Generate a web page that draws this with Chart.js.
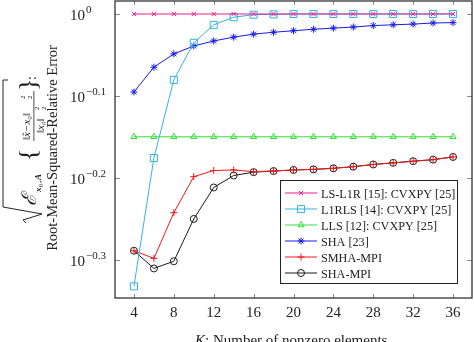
<!DOCTYPE html>
<html lang="en">

<head>
    <meta charset="UTF-8">
    <script src="https://cdn.jsdelivr.net/npm/chart.js@4.4.0/dist/chart.umd.min.js"></script>
    <title>RMSRE vs K</title>
    <style>
        body { margin: 0; background: #fff; }
        #wrap { width: 474px; height: 342px; position: relative; }
    </style>
</head>

<body>
    <div id="wrap"><canvas id="myChart"></canvas></div>

    <script>
        // number of nonzero elements K
        var kValues = [4, 6, 8, 10, 12, 14, 16, 18, 20, 22, 24, 26, 28, 30, 32, 34, 36];

        // root-mean-squared relative error per method
        var lsL1r  = [1.0, 1.0, 1.0, 1.0, 1.0, 1.0, 1.0, 1.0, 1.0, 1.0, 1.0, 1.0, 1.0, 1.0, 1.0, 1.0, 1.0];
        var l1rls  = [0.465, 0.667, 0.831, 0.922, 0.970, 0.991, 0.998, 0.999, 1.0, 1.0, 1.0, 1.0, 1.0, 1.0, 1.0, 1.0, 1.0];
        var lls    = [0.708, 0.708, 0.708, 0.708, 0.708, 0.708, 0.708, 0.708, 0.708, 0.708, 0.708, 0.708, 0.708, 0.708, 0.708, 0.708, 0.708];
        var sha    = [0.803, 0.861, 0.894, 0.914, 0.927, 0.937, 0.945, 0.950, 0.954, 0.958, 0.961, 0.964, 0.968, 0.970, 0.972, 0.975, 0.976];
        var smhaMpi = [0.514, 0.503, 0.572, 0.633, 0.644, 0.645, 0.642, 0.643, 0.645, 0.646, 0.648, 0.651, 0.655, 0.658, 0.661, 0.664, 0.669];
        var shaMpi  = [0.514, 0.489, 0.499, 0.562, 0.614, 0.635, 0.641, 0.643, 0.645, 0.646, 0.648, 0.651, 0.655, 0.658, 0.661, 0.664, 0.669];

        var xTicks = [4, 8, 12, 16, 20, 24, 28, 32, 36];
        var yTickExps = [0, -0.1, -0.2, -0.3];
        var yTickLabels = ['0', '\u22120.1', '\u22120.2', '\u22120.3'];

        var serif = "'Liberation Serif', 'DejaVu Serif', serif";

        function pts(ys) {
            return kValues.map(function (k, i) { return { x: k, y: ys[i] }; });
        }

        function series(label, ys, color, style, r) {
            return {
                label: label,
                data: pts(ys),
                borderColor: color,
                backgroundColor: 'rgba(0,0,0,0)',
                borderWidth: 1,
                pointStyle: style,
                pointRadius: r,
                pointBorderWidth: 1,
                pointBorderColor: color,
                pointBackgroundColor: 'rgba(0,0,0,0)',
                tension: 0
            };
        }

        var datasets = [
            series('LS-L1R [15]: CVXPY [25]', lsL1r, '#e81c8c', 'crossRot', 3),
            series('L1RLS [14]: CVXPY [25]', l1rls, '#33b2e4', 'rect', 5),
            series('LLS [12]: CVXPY [25]', lls, '#33dd33', 'triangle', 3.5),
            series('SHA [23]', sha, '#1a1ae8', 'star', 3.5),
            series('SMHA-MPI', smhaMpi, '#f01818', 'cross', 3.5),
            series('SHA-MPI', shaMpi, '#1a1a1a', 'circle', 3.5)
        ];

        function noPad(scale) {
            scale.paddingLeft = 0;
            scale.paddingRight = 0;
            scale.paddingTop = 0;
            scale.paddingBottom = 0;
        }

        // frame, inward ticks, tick labels, axis titles and legend
        var decorations = {
            id: 'decorations',
            afterDatasetsDraw: function (chart) {
                var ctx = chart.ctx, a = chart.chartArea;
                var xs = chart.scales.x, ys = chart.scales.y;
                ctx.save();
                ctx.strokeStyle = '#8a8a8a';
                ctx.lineWidth = 1;
                ctx.beginPath();
                xTicks.forEach(function (v) {
                    var px = Math.round(xs.getPixelForValue(v)) + 0.5;
                    ctx.moveTo(px, a.bottom); ctx.lineTo(px, a.bottom - 4);
                    ctx.moveTo(px, a.top); ctx.lineTo(px, a.top + 4);
                });
                yTickExps.forEach(function (e) {
                    var py = Math.round(ys.getPixelForValue(Math.pow(10, e))) + 0.5;
                    ctx.moveTo(a.left, py); ctx.lineTo(a.left + 5, py);
                    ctx.moveTo(a.right, py); ctx.lineTo(a.right - 5, py);
                });
                ctx.stroke();
                ctx.strokeStyle = '#222';
                ctx.lineWidth = 1.2;
                ctx.strokeRect(a.left, a.top, a.right - a.left, a.bottom - a.top);
                ctx.restore();
            },
            afterDraw: function (chart) {
                var ctx = chart.ctx, ys = chart.scales.y;
                ctx.save();
                ctx.fillStyle = '#222';
                ctx.textBaseline = 'alphabetic';

                // y tick labels 10^e
                yTickExps.forEach(function (e, i) {
                    var py = ys.getPixelForValue(Math.pow(10, e));
                    ctx.font = '15px ' + serif;
                    ctx.textAlign = 'left';
                    ctx.fillText('10', 70, py + 6);
                    var w = ctx.measureText('10').width;
                    ctx.font = '11px ' + serif;
                    ctx.fillText(yTickLabels[i], 70 + w + 1, py - 1);
                });

                // x axis title
                ctx.font = 'italic 15px ' + serif;
                ctx.fillText('K', 195, 345);
                var kw = ctx.measureText('K').width;
                ctx.font = '15px ' + serif;
                ctx.fillText(': Number of nonzero elements', 195 + kw, 345);

                drawYTitle(ctx);
                drawLegend(chart);
                ctx.restore();
            }
        };

        function drawYTitle(ctx) {
            ctx.save();
            ctx.rotate(-Math.PI / 2);
            // local (u, v): screen x = v, screen y = -u
            ctx.fillStyle = '#222';
            ctx.strokeStyle = '#222';
            ctx.textAlign = 'center';
            ctx.font = '14.5px ' + serif;
            ctx.fillText('Root-Mean-Squared-Relative Error', -148, 57);

            // radical sign
            ctx.lineWidth = 1;
            ctx.beginPath();
            ctx.moveTo(-80, 8);
            ctx.lineTo(-80, 3);
            ctx.lineTo(-207, 3);
            ctx.lineTo(-214, 42);
            ctx.lineTo(-220, 23);
            ctx.lineTo(-223, 26);
            ctx.stroke();

            ctx.textAlign = 'left';
            ctx.font = 'italic 20px ' + serif;
            ctx.fillText('\u2130', -206, 36);
            ctx.font = 'bold italic 9px ' + serif;
            ctx.fillText('x', -192, 41);
            ctx.font = '7px ' + serif;
            ctx.fillText('0', -187, 43);
            ctx.font = 'italic 9px ' + serif;
            ctx.fillText(',', -183, 41);
            ctx.font = 'bold italic 9px ' + serif;
            ctx.fillText('A', -180, 41);

            // braces
            ctx.font = '26px ' + serif;
            ctx.fillText('{', -161, 36);
            ctx.fillText('}', -91, 36);

            // fraction ||x^ - x0||^2_2 / ||x0||^2_2
            ctx.font = 'italic 11px ' + serif;
            ctx.fillText('\u2016x\u0302\u2212x\u2080\u2016', -140, 30);
            ctx.font = '7px ' + serif;
            ctx.fillText('2', -99, 25);
            ctx.fillText('2', -99, 32);
            ctx.fillRect(-141, 33.5, 50, 0.8);
            ctx.font = 'italic 11px ' + serif;
            ctx.fillText('\u2016x\u2080\u2016', -133, 44);
            ctx.font = '7px ' + serif;
            ctx.fillText('2', -110, 39);
            ctx.fillText('2', -110, 46);

            ctx.font = '14px ' + serif;
            ctx.fillText(':', -80, 36);
            ctx.restore();
        }

        function drawLegend(chart) {
            var ctx = chart.ctx;
            ctx.save();
            ctx.fillStyle = '#fff';
            ctx.fillRect(280, 180, 177, 103);
            ctx.strokeStyle = '#222';
            ctx.lineWidth = 1;
            ctx.strokeRect(280.5, 180.5, 177, 103);
            chart.data.datasets.forEach(function (ds, i) {
                var y = 193 + 16 * i;
                ctx.strokeStyle = ds.borderColor;
                ctx.lineWidth = 1;
                ctx.beginPath();
                ctx.moveTo(285, y); ctx.lineTo(317, y);
                ctx.stroke();
                ctx.fillStyle = 'rgba(0,0,0,0)';
                Chart.helpers.drawPoint(ctx, {
                    pointStyle: ds.pointStyle, radius: ds.pointRadius,
                    rotation: 0, borderWidth: 1
                }, 301, y);
                ctx.fillStyle = '#222';
                ctx.font = '12.2px ' + serif;
                ctx.textAlign = 'left';
                ctx.textBaseline = 'alphabetic';
                ctx.fillText(ds.label, 321, y + 4.5);
            });
            ctx.restore();
        }

        var ctx = document.getElementById('myChart').getContext('2d');
        var myChart = new Chart(ctx, {
            type: 'line',
            data: { datasets: datasets },
            options: {
                responsive: true,
                maintainAspectRatio: false,
                animation: false,
                layout: { autoPadding: false, padding: { left: 0, right: 2, top: 1, bottom: 0 } },
                plugins: { legend: { display: false }, tooltip: { enabled: false } },
                scales: {
                    x: {
                        type: 'linear',
                        min: 2.1,
                        max: 37.9,
                        afterBuildTicks: function (scale) {
                            scale.ticks = xTicks.map(function (v) { return { value: v }; });
                        },
                        afterFit: function (scale) { scale.height = 44; noPad(scale); },
                        grid: { drawOnChartArea: false, drawTicks: false },
                        border: { display: false },
                        ticks: {
                            padding: 6,
                            color: '#222',
                            font: { family: serif, size: 15 }
                        }
                    },
                    y: {
                        type: 'logarithmic',
                        min: 0.4505,
                        max: 1.0372,
                        afterBuildTicks: function (scale) {
                            scale.ticks = yTickExps.map(function (e) { return { value: Math.pow(10, e) }; });
                        },
                        afterFit: function (scale) { scale.width = 115; noPad(scale); },
                        grid: { drawOnChartArea: false, drawTicks: false },
                        border: { display: false },
                        ticks: { display: false }
                    }
                }
            },
            plugins: [decorations]
        });
    </script>

</body>

</html>
